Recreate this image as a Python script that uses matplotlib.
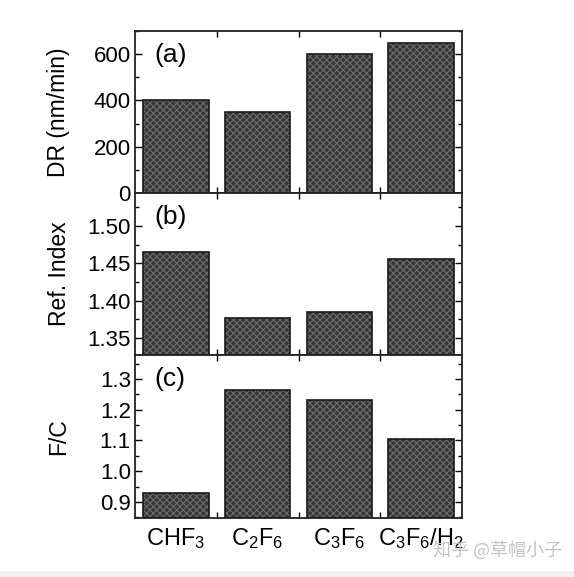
import numpy as np
import matplotlib
matplotlib.use('Agg')
import matplotlib.pyplot as plt
from matplotlib.ticker import MultipleLocator, FixedLocator, NullFormatter
from matplotlib.patches import Rectangle

plt.rcParams['font.family'] = ['Liberation Sans', 'DejaVu Sans']
plt.rcParams['mathtext.fontset'] = 'custom'
plt.rcParams['mathtext.rm'] = 'Liberation Sans'
plt.rcParams['hatch.linewidth'] = 0.8

gases = ['$\\mathregular{CHF_3}$', '$\\mathregular{C_2F_6}$',
         '$\\mathregular{C_3F_6}$', '$\\mathregular{C_3F_6/H_2}$']
dr = [400, 348, 600, 650]
ref_index = [1.465, 1.376, 1.385, 1.455]
f_c = [0.93, 1.265, 1.232, 1.105]

fig = plt.figure(figsize=(5.74, 5.77), dpi=100)
L, W = 135 / 574, 327 / 574
H = 577
boxes = [(193, 31), (355, 193), (518, 355)]
axes = [fig.add_axes([L, 1 - b / H, W, (b - t) / H]) for b, t in boxes]

panels = [
    (dr, (0, 700), 200, 100, 'DR (nm/min)', '(a)', '{:.0f}'),
    (ref_index, (1.327, 1.544), 0.05, 0.025, 'Ref. Index', '(b)', '{:.2f}'),
    (f_c, (0.848, 1.378), 0.1, 0.05, 'F/C', '(c)', '{:.1f}'),
]
x = np.arange(len(gases))
for i, (ax, (vals, ylim, maj, mnr, lab, tag, fmt)) in enumerate(zip(axes, panels)):
    base = ylim[0]
    heights = [v - base for v in vals]
    ax.bar(x, heights, 0.8, bottom=base, color='#353535', edgecolor='#6e6e6e',
           hatch='xxxxx', linewidth=0)
    ax.bar(x, heights, 0.8, bottom=base, fill=False, edgecolor='#1a1a1a', linewidth=1.2)
    ax.set_xlim(-0.5, 3.5)
    ax.set_ylim(*ylim)
    ax.yaxis.set_major_locator(MultipleLocator(maj))
    ax.yaxis.set_minor_locator(MultipleLocator(mnr))
    ax.yaxis.set_major_formatter(plt.FuncFormatter(lambda v, p, f=fmt: f.format(v)))
    ax.xaxis.set_major_locator(FixedLocator([0.5, 1.5, 2.5]))
    ax.xaxis.set_major_formatter(NullFormatter())
    ax.tick_params(axis='both', which='both', direction='in', top=True, right=True,
                   labelsize=16, width=1, pad=3)
    ax.tick_params(axis='y', which='major', length=5)
    ax.tick_params(axis='y', which='minor', length=3)
    ax.tick_params(axis='x', which='major', length=4)
    for s in ax.spines.values():
        s.set_linewidth(1.3)
        s.set_color('#222222')
    ax.text(0.06, 0.85, tag, transform=ax.transAxes, fontsize=19, va='center', ha='left')
    mid = 1 - (boxes[i][0] + boxes[i][1]) / 2 / H
    fig.text(59 / 574, mid, lab, rotation=90, fontsize=16.5, ha='center', va='center')

for xi, g in zip(x, gases):
    axes[2].text(xi, -0.05, g, transform=axes[2].get_xaxis_transform(),
                 ha='center', va='top', fontsize=17)

fig.text(433 / 574, 1 - 550 / H, '知乎 @草帽小子', fontsize=13, color='#c4c4c4',
         family=['Noto Sans CJK SC', 'DejaVu Sans'], ha='left', va='center')
fig.patches.append(Rectangle((0, 0), 1, 6 / H, transform=fig.transFigure,
                             facecolor='#eef2f7', edgecolor='none'))

fig.savefig('out.png', dpi=100)
